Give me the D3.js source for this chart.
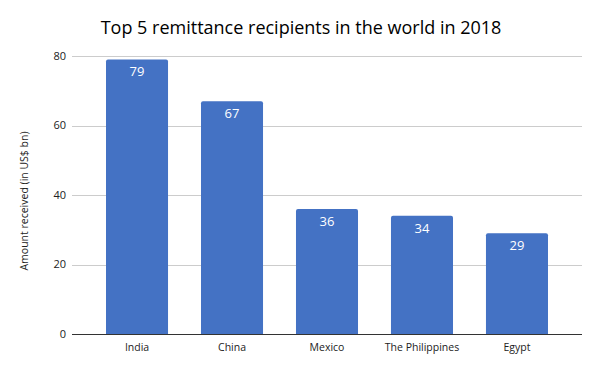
<!DOCTYPE html>
<meta charset="utf-8">
<style>
    body {
        margin: 0;
        background: #fff;
        font-family: "Open Sans", sans-serif;
    }
    .grid line {
        stroke: #cccccc;
        shape-rendering: crispEdges;
    }
    .grid path {
        display: none;
    }
</style>
<body>
    <script src="https://cdn.jsdelivr.net/npm/d3@7"></script>
    <script>

        var countries = ["India", "China", "Mexico", "The Philippines", "Egypt"];
        var amounts = [79, 67, 36, 34, 29];
        var yTicks = [0, 20, 40, 60, 80];

        var margin = { top: 56, right: 18, bottom: 37, left: 72 },
            width = 600 - margin.left - margin.right,
            height = 371 - margin.top - margin.bottom;

        var data = countries.map(function (c, i) { return { name: c, value: amounts[i] }; });

        var x = d3.scaleBand()
            .domain(countries)
            .range([0, width])
            .paddingInner(0.347)
            .paddingOuter(0.358);

        var y = d3.scaleLinear().domain([0, 80]).range([height, 0]);

        var svg = d3.select("body").append("svg")
            .attr("width", 600)
            .attr("height", 371);

        // Title
        svg.append("text")
            .attr("x", 301)
            .attr("y", 34)
            .attr("text-anchor", "middle")
            .style("font-size", "18px")
            .style("fill", "#000")
            .text("Top 5 remittance recipients in the world in 2018");

        var g = svg.append("g")
            .attr("transform", "translate(" + margin.left + "," + margin.top + ")");

        // Gridlines
        g.append("g")
            .attr("class", "grid")
            .call(d3.axisLeft(y).tickValues(yTicks).tickSize(-width).tickFormat(""));

        // Y tick labels
        g.selectAll(".ylab")
            .data(yTicks)
            .enter().append("text")
            .attr("class", "ylab")
            .attr("x", -6)
            .attr("y", function (d) { return y(d); })
            .attr("dy", "0.35em")
            .attr("text-anchor", "end")
            .style("font-size", "11px")
            .style("fill", "#222")
            .text(function (d) { return d; });

        // Bars with slightly rounded tops
        var r = 2;
        g.selectAll(".bar")
            .data(data)
            .enter().append("path")
            .attr("class", "bar")
            .attr("fill", "#4472c4")
            .attr("d", function (d) {
                var x0 = x(d.name), x1 = x0 + x.bandwidth(), y0 = y(d.value), yb = y(0);
                return "M" + x0 + "," + yb + "V" + (y0 + r) + "Q" + x0 + "," + y0 + " " + (x0 + r) + "," + y0 +
                    "H" + (x1 - r) + "Q" + x1 + "," + y0 + " " + x1 + "," + (y0 + r) + "V" + yb + "Z";
            });

        // Value labels
        g.selectAll(".val")
            .data(data)
            .enter().append("text")
            .attr("class", "val")
            .attr("x", function (d) { return x(d.name) + x.bandwidth() / 2; })
            .attr("y", function (d) { return y(d.value) + 17; })
            .attr("text-anchor", "middle")
            .style("font-size", "13px")
            .style("fill", "#fff")
            .text(function (d) { return d.value; });

        // Baseline
        g.append("line")
            .attr("x1", 0)
            .attr("x2", width)
            .attr("y1", y(0) + 0.5)
            .attr("y2", y(0) + 0.5)
            .attr("stroke", "#333");

        // X labels
        g.selectAll(".xlab")
            .data(countries)
            .enter().append("text")
            .attr("class", "xlab")
            .attr("x", function (d) { return x(d) + x.bandwidth() / 2; })
            .attr("y", height + 17)
            .attr("text-anchor", "middle")
            .style("font-size", "10.5px")
            .style("fill", "#222")
            .text(function (d) { return d; });

        // Y axis title
        svg.append("text")
            .attr("transform", "translate(28," + (margin.top + 145) + ") rotate(-90)")
            .attr("text-anchor", "middle")
            .style("font-size", "10.5px")
            .style("fill", "#222")
            .text("Amount received (in US$ bn)");

    </script>
</body>
